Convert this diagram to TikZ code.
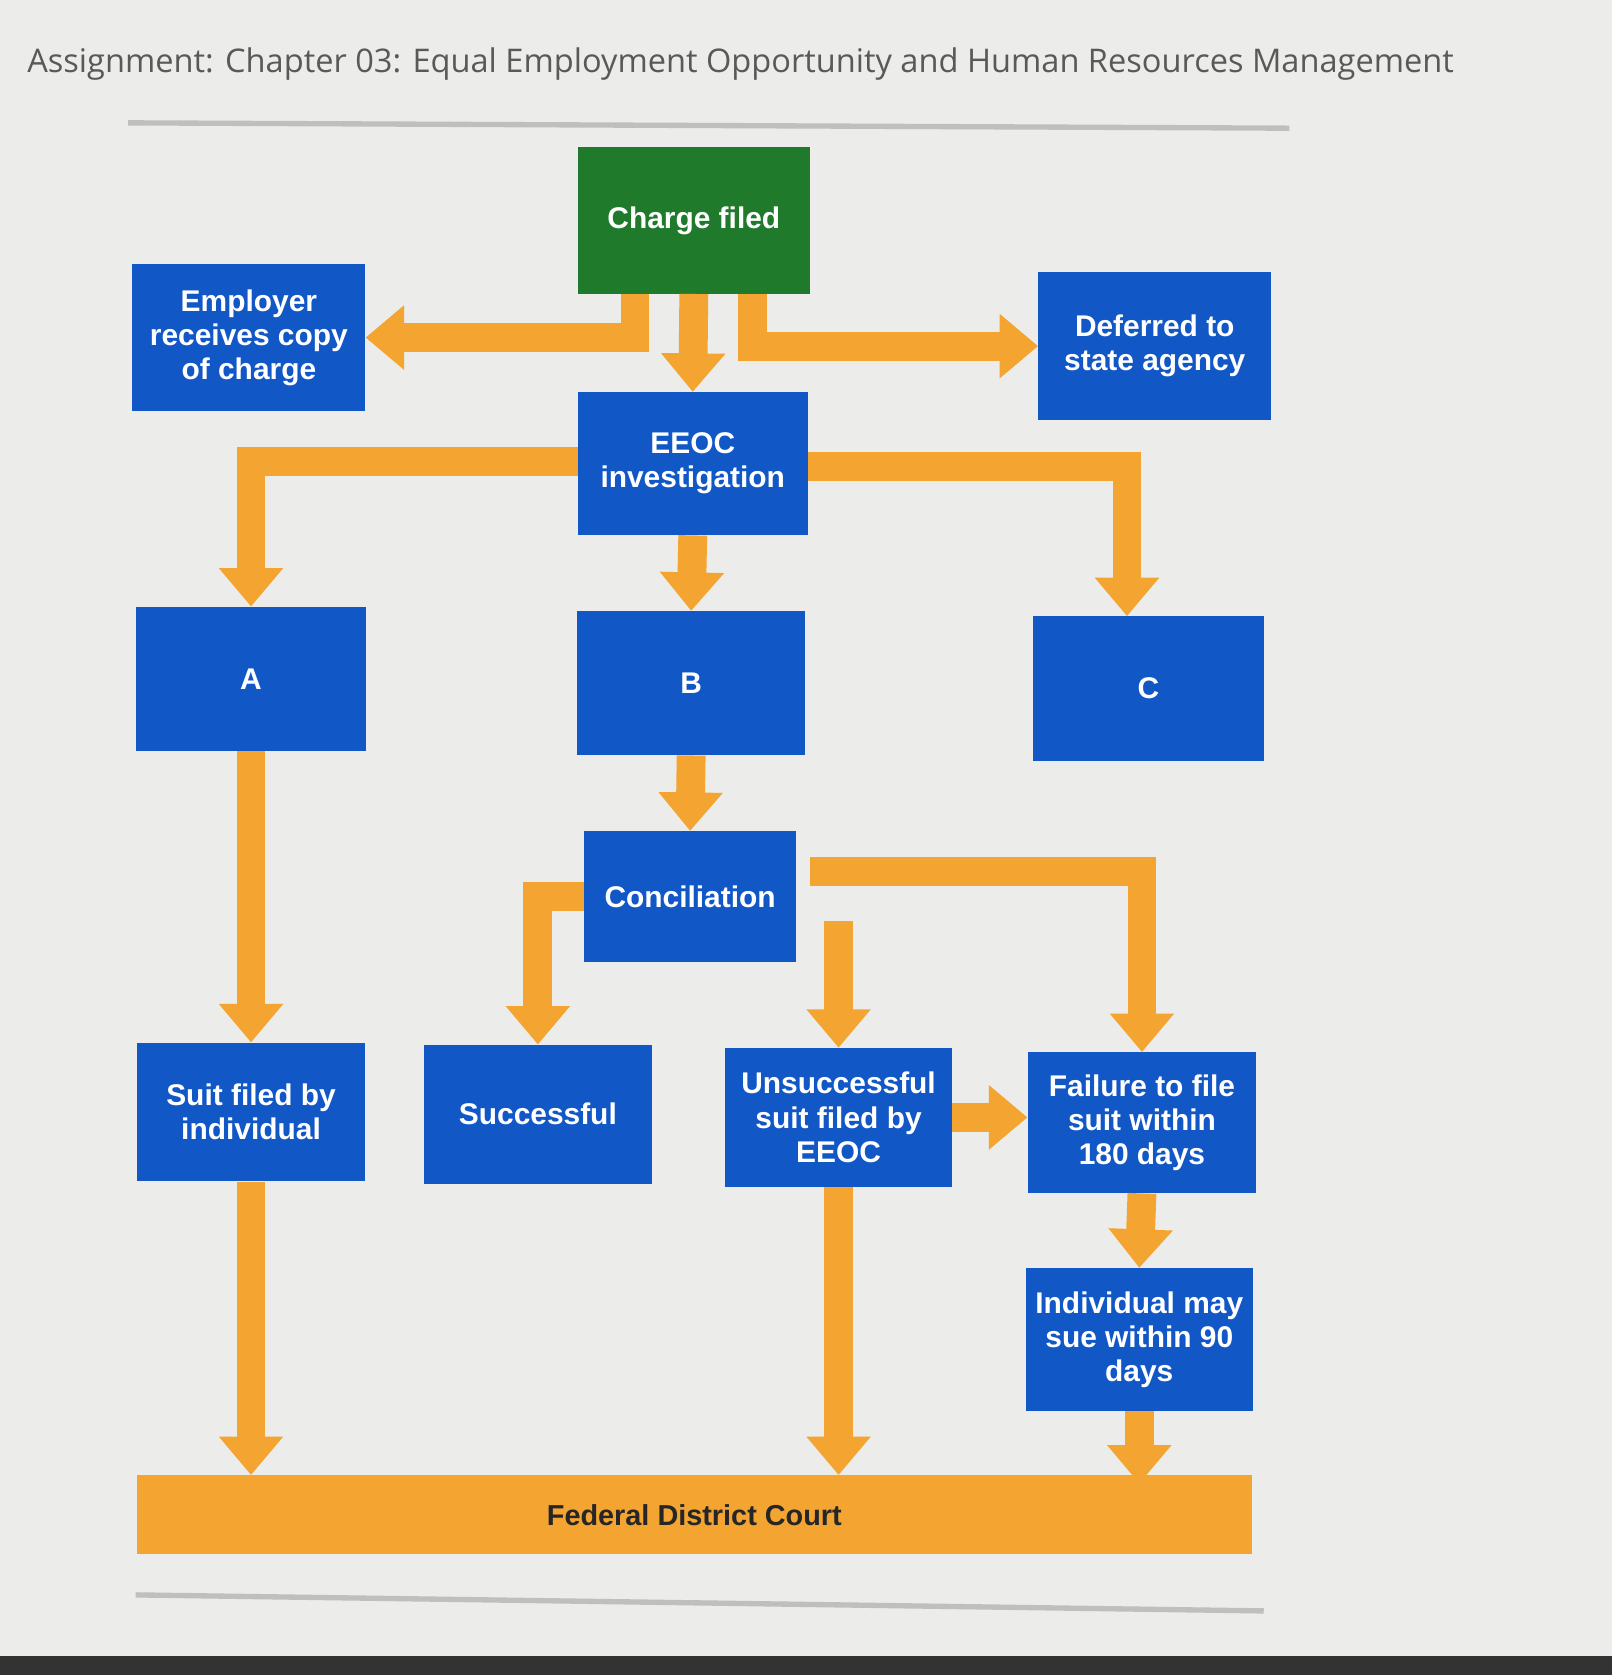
\documentclass[tikz,border=0pt]{standalone}
\usepackage{fontspec}
\setmainfont{Liberation Sans}
\newfontfamily\titlefont{Open Sans}
\usetikzlibrary{arrows.meta}
\definecolor{bx}{HTML}{1257C6}
\definecolor{gr}{HTML}{1F7A2C}
\definecolor{or}{HTML}{F3A431}
\definecolor{bg}{HTML}{ECECEA}
\begin{document}
\begin{tikzpicture}[x=1pt,y=-1pt,
 box/.style={fill=bx,text=white,font=\bfseries\fontsize{28}{32}\selectfont,align=center,inner sep=0pt},
 arr/.style={draw=or,line width=27pt,-{Triangle[width=58pt,length=36pt]}}]
\useasboundingbox (0,0) rectangle (1509,1568);
\fill[bg] (0,0) rectangle (1509,1568);
\fill[black!80] (0,1550) rectangle (1509,1568);
\node[anchor=west,text=black!65,font=\titlefont\fontsize{30.5}{34}\selectfont] (title) at (22,60) {Assignment: Chapter 03: Equal Employment Opportunity and Human Resources Management};
\draw[black!25,line width=5pt] (120,115) -- (1207,120);
\draw[black!25,line width=5pt] (127,1493) -- (1183,1508);
\node[box,fill=gr,minimum width=217pt,minimum height=137pt] (charge) at (649.5,206.5) {Charge filed};
\node[box,minimum width=218pt,minimum height=138pt] (emp) at (233,316) {Employer\\receives copy\\of charge};
\node[box,minimum width=218pt,minimum height=138pt] (def) at (1081,324) {Deferred to\\state agency};
\node[box,minimum width=215pt,minimum height=134pt] (eeoc) at (648.5,434) {EEOC\\investigation};
\node[box,minimum width=216pt,minimum height=135pt] (A) at (235,635.5) {A};
\node[box,minimum width=214pt,minimum height=135pt] (B) at (647,639.5) {B};
\node[box,minimum width=216pt,minimum height=135pt] (C) at (1075,644.5) {C};
\node[box,minimum width=198pt,minimum height=123pt] (conc) at (646,839.5) {Conciliation};
\node[box,minimum width=214pt,minimum height=130pt] (suit) at (235,1041) {Suit filed by\\individual};
\node[box,minimum width=213pt,minimum height=130pt] (succ) at (503.5,1043) {Successful};
\node[box,minimum width=212pt,minimum height=130pt] (uns) at (785,1046) {Unsuccessful\\suit filed by\\EEOC};
\node[box,minimum width=214pt,minimum height=132pt] (fail) at (1069,1051) {Failure to file\\suit within\\180 days};
\node[box,minimum width=213pt,minimum height=134pt] (ind) at (1066.5,1254) {Individual may\\sue within 90\\days};
\node[fill=or,minimum width=1044pt,minimum height=74pt,inner sep=0pt,font=\bfseries\fontsize{27}{32}\selectfont,text=black!85] (court) at (650,1418) {Federal District Court};
\coordinate (uc) at (785,862);
\draw[arr] ([xshift=-55pt]charge.south) |- (emp.east);
\draw[arr] (charge.south) -- (eeoc.north);
\draw[arr] ([xshift=55pt]charge.south) |- (def.west);
\draw[arr] ([yshift=2pt]eeoc.west) -| (A.north);
\draw[arr] ([yshift=-3pt]eeoc.east) -| ([xshift=-20pt]C.north);
\draw[arr] (eeoc.south) -- (B.north);
\draw[arr] (B.south) -- (conc.north);
\draw[arr] (conc.west) -| (succ.north);
\draw[arr] (uc) -- (uns.north);
\draw[arr] ([xshift=13pt,yshift=24pt]conc.east) -| (fail.north);
\draw[arr] (A.south) -- (suit.north);
\draw[arr] (uns.east) -- (uns.east -| fail.west);
\draw[arr] (fail.south) -- (ind.north);
\draw[arr] (ind.south) -- ([yshift=-8pt]ind.south |- court.north);
\draw[arr] (suit.south) -- (suit.south |- court.north);
\draw[arr] (uns.south) -- (uns.south |- court.north);
\end{tikzpicture}
\end{document}
